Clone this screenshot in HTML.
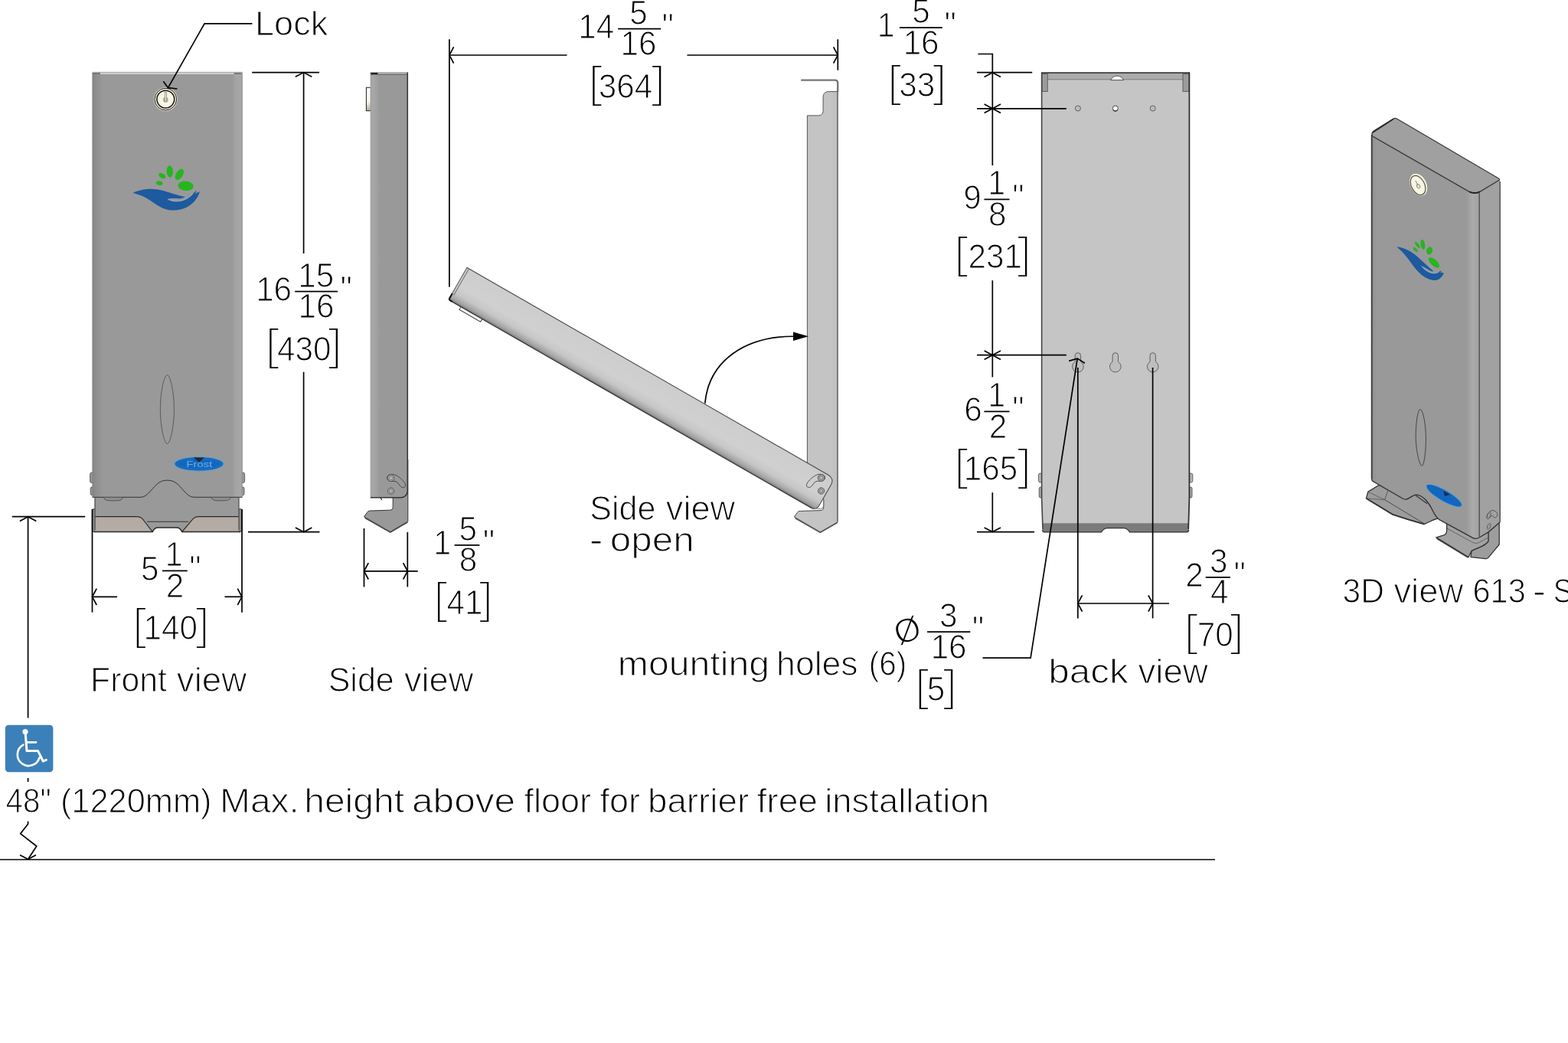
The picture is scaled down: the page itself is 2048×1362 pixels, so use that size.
<!DOCTYPE html>
<html lang="en"><head><meta charset="utf-8"><title>613-S Dimensions</title>
<style>
html,body{margin:0;padding:0;background:#fff;}
body{width:2048px;height:1362px;overflow:hidden;}
svg{display:block;position:absolute;left:0;top:0;}
text{font-family:"Liberation Sans",sans-serif;fill:#000;stroke:#fff;stroke-width:1.2px;font-size:44.7px;}
.b{font-family:"Liberation Mono",monospace;stroke-width:2.2px;}
.t,.b{filter:grayscale(1);}
.ln{stroke:#000;stroke-width:1.7;fill:none;stroke-linecap:butt;}
.ol{stroke:#333;stroke-width:1;fill:none;}
</style></head><body>
<svg width="2048" height="1362" viewBox="0 0 2048 1362">
<!-- defs -->
<defs>
<linearGradient id="gFront" x1="0" y1="0" x2="1" y2="0">
<stop offset="0" stop-color="#7e7e7e"/><stop offset="0.012" stop-color="#8a8a8a"/><stop offset="0.07" stop-color="#999999"/>
<stop offset="0.93" stop-color="#999999"/><stop offset="0.955" stop-color="#a4a4a4"/><stop offset="0.99" stop-color="#a6a6a6"/><stop offset="1" stop-color="#8c8c8c"/>
</linearGradient>
<linearGradient id="gSide" x1="0" y1="0" x2="1" y2="0">
<stop offset="0" stop-color="#a2a2a2"/><stop offset="0.08" stop-color="#a8a8a8"/><stop offset="0.25" stop-color="#999999"/>
<stop offset="1" stop-color="#999999"/>
</linearGradient>
<linearGradient id="gOpen" x1="0" y1="0" x2="0" y2="1">
<stop offset="0" stop-color="#cdcdcd"/><stop offset="0.55" stop-color="#d0d0d0"/><stop offset="0.76" stop-color="#c6c6c6"/><stop offset="0.92" stop-color="#a4a4a4"/><stop offset="1" stop-color="#7c7c7c"/>
</linearGradient>
<linearGradient id="gNub" x1="0" y1="0" x2="0" y2="1">
<stop offset="0" stop-color="#ffffff"/><stop offset="0.6" stop-color="#fbfbe9"/><stop offset="1" stop-color="#b5a8a0"/>
</linearGradient>
<linearGradient id="g3d" x1="0" y1="0" x2="1" y2="0">
<stop offset="0" stop-color="#8e8e8e"/><stop offset="0.04" stop-color="#999999"/><stop offset="0.88" stop-color="#999999"/><stop offset="0.94" stop-color="#ababab"/><stop offset="1" stop-color="#a2a2a2"/>
</linearGradient>
<g id="logo">
<path d="M173.6,252.1 C180,248.6 190,246.6 200,246.9 C209,247.2 216,249.6 224,252.3 C231,254.6 237,256.1 241.8,257 C239.5,258.8 236,259.4 232.5,259.3 C227,259.1 222.5,258.8 218.6,260 C224,263 231,263.5 236.5,262.3 C243,260.8 248,257 252,253 C253.6,251.3 255.5,249.6 257,248.8 C256.6,250.2 255.6,251.6 254.4,253.2 C256.6,252 258.8,250.8 260.8,250.6 C259.5,255.5 256,261 251.5,265.2 C245,271.3 236,274.6 226,274.6 C217,274.6 210,271 204,267 C198,263 192,258.6 186,256 C181.6,254.1 177,253.2 173.6,252.1 Z" fill="#1d5a9e"/>
<path d="M219.4,260.2 C225,263.2 231.5,263.4 236.8,262.2 C243,260.7 248,257.2 252,253.2" fill="none" stroke="#8fb3d9" stroke-width="1"/>
<g fill="#25b51f">
<ellipse cx="221.8" cy="223.9" rx="4.2" ry="7.6" transform="rotate(-3 221.8 223.9)"/>
<ellipse cx="234.3" cy="227.8" rx="4.4" ry="8" transform="rotate(32 234.3 227.8)"/>
<ellipse cx="211.8" cy="229.6" rx="5" ry="3" transform="rotate(28 211.8 229.6)"/>
<ellipse cx="208.2" cy="239.1" rx="4.4" ry="2.7" transform="rotate(12 208.2 239.1)"/>
<ellipse cx="242.6" cy="242.8" rx="10.2" ry="6.2" transform="rotate(4 242.6 242.8)"/>
</g>
</g>
<g id="pivot">
<!-- hinge detail, origin at upper circle centre -->
<path d="M-3.2,-3.6 C1,-6 6,-4.6 10.5,-1.2 C15,2.2 19.5,7 19.2,10 C18.9,12.6 15.5,13 13.3,11.6 C11,10 10,6 6.5,4.6 C4,3.6 0,5.4 -3,3.4 C-5.6,1.6 -5.6,-2.2 -3.2,-3.6 Z" fill="none" stroke="#333" stroke-width="0.8"/>
<circle cx="0" cy="0" r="4.4" fill="#aaa" stroke="#444" stroke-width="0.8"/>
<circle cx="0" cy="0" r="2.4" fill="#b8b8b8" stroke="#555" stroke-width="0.6"/>
<circle cx="0" cy="17" r="4.2" fill="#aaa" stroke="#444" stroke-width="0.8"/>
<circle cx="0" cy="17" r="2.2" fill="#b8b8b8" stroke="#555" stroke-width="0.6"/>
</g>
</defs>

<!-- front -->
<g id="frontview">
<!-- side hinge bumps -->
<rect x="117.6" y="617" width="5" height="13.6" rx="2.4" fill="#999" stroke="#444" stroke-width="0.8"/>
<rect x="118.2" y="635.8" width="5" height="11" rx="2.4" fill="#999" stroke="#444" stroke-width="0.8"/>
<rect x="314.6" y="617" width="5" height="13.6" rx="2.4" fill="#999" stroke="#444" stroke-width="0.8"/>
<rect x="314" y="635.8" width="5" height="11" rx="2.4" fill="#999" stroke="#444" stroke-width="0.8"/>
<!-- tray behind -->
<rect x="120.4" y="664.6" width="5" height="29.6" rx="2" fill="#8e8e8e" stroke="#333" stroke-width="1"/>
<rect x="311.2" y="664.6" width="5" height="29.6" rx="2" fill="#8e8e8e" stroke="#333" stroke-width="1"/>
<path d="M123.6,620 H312.2 V694.6 H237.6 C236,690.4 234,689 230.6,689 H206.4 C203,689 201,690.4 199.4,694.6 H123.6 Z" fill="#999999"/>
<!-- beige paper -->
<path d="M124.6,674.6 H178.5 C183,674.6 185.6,676 188,680 L199.2,694.2 H124.6 Z" fill="#b4aba5"/>
<path d="M311.6,674.6 H259.6 C255,674.6 252.4,676 250,680 L237.9,694.2 H311.6 Z" fill="#b4aba5"/>
<path d="M124.2,674.6 H178.5 C183,674.6 185.6,676 188,680 L199.2,694.4 M311.8,674.6 H259.6 C255,674.6 252.4,676 250,680 L237.9,694.4" fill="none" stroke="#2a2a2a" stroke-width="1.2"/>
<path d="M192,681.3 H246" stroke="#333" stroke-width="1.1" fill="none"/>
<path d="M122.4,694.4 H199.4 C201,690.4 203,689 206.4,689 H230.6 C234,689 236,690.4 237.6,694.4 H314" fill="none" stroke="#2a2a2a" stroke-width="1.5"/>
<path d="M124,650 V692 M312,650 V692" stroke="#3a3a3a" stroke-width="1" fill="none"/>
<!-- main cover -->
<path d="M120.4,94.4 H316.8 V649.3 H253 C244,649.3 238,636 229,630 C225,627.6 222,627.2 218.4,627.2 C215,627.2 212,627.6 208,630 C199,636 193,649.3 184,649.3 H120.4 Z" fill="url(#gFront)"/>
<rect x="120.4" y="93.8" width="196.4" height="1.6" fill="#b0b0b0"/>
<rect x="122" y="95.4" width="193" height="1.3" fill="#e8e8e8"/>
<path d="M121.6,96 h9.4 M305.6,96 h9.4" stroke="#222" stroke-width="1.2"/>
<path d="M120.6,649.3 H184 C193,649.3 199,636 208,630 C212,627.6 215,627.2 218.4,627.2 C222,627.2 225,627.6 229,630 C238,636 244,649.3 253,649.3 H316.6" fill="none" stroke="#333" stroke-width="1"/>
<path d="M135.4,649.8 C137,653.4 140,653.8 148,653.8 C156,653.8 159,653.4 160.6,649.8 M276,649.8 C277.6,653.4 280.6,653.8 288.6,653.8 C296.6,653.8 299.6,653.4 301.2,649.8" fill="#8f8f8f" stroke="#444" stroke-width="0.8"/>
<!-- slot -->
<path d="M218.4,489.6 C222.4,489.6 227.4,512 227.4,534.5 C227.4,557 222.4,579.4 218.4,579.4 C214.4,579.4 209.4,557 209.4,534.5 C209.4,512 214.4,489.6 218.4,489.6 Z" fill="#9a9a9a" stroke="#4a4a4a" stroke-width="0.8"/>
<!-- lock -->
<circle cx="216.3" cy="129.6" r="15.4" fill="#f1efdb"/>
<circle cx="216.3" cy="129.6" r="14.3" fill="none" stroke="#111" stroke-width="1"/>
<circle cx="216.3" cy="129.6" r="11.4" fill="#f7f5e4" stroke="#111" stroke-width="1.5"/>
<circle cx="216.3" cy="130.2" r="3.4" fill="#b0ad9c"/>
<rect x="215.3" y="120.6" width="2.2" height="12.4" fill="#f1efdb" stroke="#777" stroke-width="0.7"/>
<!-- logos -->
<use href="#logo"/>
<ellipse cx="259.9" cy="605.8" rx="32.6" ry="9.6" fill="#5b9bd6"/>
<ellipse cx="259.9" cy="605.8" rx="31.4" ry="8.6" fill="#1167bd"/>
<ellipse cx="259.9" cy="605.8" rx="28.6" ry="6.6" fill="none" stroke="#5d9ede" stroke-width="0.5" stroke-dasharray="1.2 1.6"/>
<path d="M252.6,597.4 H267.2 L259.9,603.4 Z" fill="#2a2430"/>
<text x="260.2" y="609.6" text-anchor="middle" textLength="34" lengthAdjust="spacingAndGlyphs" style="font-size:10.5px;fill:#6ea9e4;stroke:none">Frost</text>
</g>

<!-- side -->
<g id="sideview">
<!-- lock nub -->
<rect x="478.4" y="114.3" width="6" height="30.4" fill="url(#gNub)" stroke="#222" stroke-width="1"/>
<!-- back plate lower -->
<path d="M513.2,640 V661.6 C513.2,665 511.6,666.2 508.6,666.2 L483.6,667 C481.6,667 480.4,667.8 479.4,669.4 L475.6,674.8 L509.8,694.6 L532.8,680.8 V600 H513.2 Z" fill="#999999" stroke="#333" stroke-width="1"/>
<path d="M476.6,676.4 L509.8,695.2 L532.6,681.8" fill="none" stroke="#4a4a4a" stroke-width="1.4"/>
<!-- body -->
<path d="M483.6,94.2 H532.2 V640.8 C532.2,646 528.6,649.6 523.6,649.6 H483.6 Z" fill="url(#gSide)"/>
<rect x="483.6" y="94" width="48.6" height="2.8" fill="#b0b0b0"/>
<rect x="484" y="96.8" width="48" height="1.2" fill="#6e6e6e"/>
<path d="M484.4,96 h9" stroke="#111" stroke-width="1.8"/>
<path d="M532.3,94.6 V641 C532.3,646 528.6,649.7 523.6,649.7 H483.8" fill="none" stroke="#333" stroke-width="1.5"/>
<path d="M497,650 l1.8,3" stroke="#222" stroke-width="1.2"/>
<use href="#pivot" transform="translate(510.6 624.2)"/>
</g>

<!-- open -->
<g id="openview">
<!-- back plate (vertical) -->
<path d="M1054.4,150.9 H1068.6 C1072.6,150.9 1075.1,148.4 1075.1,144.4 V126.4 C1075.1,122.2 1078,119.6 1082.4,119.6 H1094.2 V681.6 L1071.4,694.8 L1037.4,675 L1041.2,669.6 C1042.2,668 1043.4,667.4 1045.4,667.4 L1071,666.6 C1074.4,666.6 1075.8,665 1075.8,662 V640 L1054.4,628 Z" fill="#c4c4c4"/>
<rect x="1088" y="119.6" width="6" height="562" fill="#c0c0c0"/>
<path d="M1054.4,628 V150.9 H1068.6 C1072.6,150.9 1075.1,148.4 1075.1,144.4 V126.4 C1075.1,122.2 1078,119.6 1082.4,119.6 H1094.2" fill="none" stroke="#555" stroke-width="1"/>

<path d="M1046.2,104.6 H1090.6 C1093,104.6 1094.2,105.8 1094.2,108.2 V119.6" fill="none" stroke="#777" stroke-width="2.4"/>
<path d="M1094,119 V681.6" stroke="#4a4a4a" stroke-width="1.3" fill="none"/>
<path d="M1075.8,652 V662 C1075.8,665 1074.4,666.6 1071,666.6 L1045.4,667.4 C1043.4,667.4 1042.2,668 1041.2,669.6 L1037.4,675 L1071.4,694.8 L1094.2,681.6" fill="none" stroke="#444" stroke-width="1"/>
<path d="M1038.4,676.6 L1071.4,695.4 L1094,682.4" fill="none" stroke="#555" stroke-width="1.4"/>
<path d="M1066,664 L1075.6,646 V660 C1075.6,663 1074,664.4 1071,664.4 Z" fill="#fff" stroke="#555" stroke-width="0.8"/>
<!-- tilted cover -->
<g transform="translate(609.6 349.2) rotate(29.85)">
<rect x="19" y="47" width="32" height="5.6" fill="#fff" stroke="#444" stroke-width="1"/>
<path d="M0,0 H545 C550.4,0 554,3.6 554,9 V41 C554,45.4 551,48.4 546.6,48.4 H3 C1,48.4 0,47.4 0,45.4 Z" fill="url(#gOpen)"/>
<path d="M0,0 H545 C550.4,0 554,3.6 554,9 V41 C554,45.4 551,48.4 546.6,48.4" fill="none" stroke="#444" stroke-width="1"/>
<path d="M3.4,0.6 V40" stroke="#666" stroke-width="0.9" fill="none"/>
<path d="M0.4,0 V46" stroke="#555" stroke-width="1" fill="none"/>
<path d="M2,48.3 H547" stroke="#3a3a3a" stroke-width="1.5" fill="none"/>
<path d="M0.6,39 V46 C0.6,47.6 1.4,48.2 3,48.2 H6" stroke="#111" stroke-width="2" fill="none"/>
</g>
<use href="#pivot" transform="translate(1072.6 624) scale(-1 1)"/>
</g>

<!-- back -->
<g id="backview">
<!-- hinge bumps -->
<rect x="1356.4" y="618" width="5" height="12" rx="2.4" fill="#b5b5b5" stroke="#444" stroke-width="0.8"/>
<rect x="1357.2" y="636" width="4.4" height="14" rx="2" fill="#a5a5a5" stroke="#444" stroke-width="0.8"/>
<rect x="1552.8" y="618" width="5" height="12" rx="2.4" fill="#b5b5b5" stroke="#444" stroke-width="0.8"/>
<rect x="1552.6" y="636" width="4.4" height="14" rx="2" fill="#a5a5a5" stroke="#444" stroke-width="0.8"/>
<!-- panel -->
<path d="M1360.2,94.6 H1554 V650 L1552.6,692 C1552.6,693.8 1551.4,694.9 1549.6,694.9 H1475.4 C1473.4,690.8 1471,689.6 1467,689.6 H1447 C1443,689.6 1440.6,690.8 1438.6,694.9 H1364.6 C1362.8,694.9 1361.6,693.8 1361.6,692 L1360.2,650 Z" fill="#c5c5c5"/>
<!-- bottom dark band -->
<path d="M1361.4,683.2 H1552.8 L1552.6,692 C1552.6,693.8 1551.4,694.9 1549.6,694.9 H1475.4 C1473.4,690.8 1471,689.6 1467,689.6 H1447 C1443,689.6 1440.6,690.8 1438.6,694.9 H1364.6 C1362.8,694.9 1361.6,693.8 1361.6,692 Z" fill="#7b7b7b"/>
<path d="M1361.6,692 C1361.6,693.8 1362.8,694.9 1364.6,694.9 H1438.6 C1440.6,690.8 1443,689.6 1447,689.6 H1467 C1471,689.6 1473.4,690.8 1475.4,694.9 H1549.6 C1551.4,694.9 1552.6,693.8 1552.6,692" fill="none" stroke="#333" stroke-width="1.2"/>
<!-- top lip -->
<rect x="1360.2" y="96" width="193.8" height="7.6" fill="#ababab"/>
<rect x="1368" y="103" width="177" height="1.4" fill="#8a8a8a"/>
<rect x="1360.8" y="96.6" width="7.4" height="22.8" fill="#9c9c9c" stroke="#555" stroke-width="0.9"/>
<rect x="1545" y="96.6" width="8.2" height="22.8" fill="#9c9c9c" stroke="#555" stroke-width="0.9"/>
<path d="M1450.6,104.6 C1453,100.6 1455.6,99.2 1459,99.2 C1462.4,99.2 1465,100.6 1467.6,104.6 Z" fill="#fff" stroke="#444" stroke-width="0.9"/>
<rect x="1360.2" y="94.2" width="193.8" height="1.8" fill="#444"/>
<!-- edges -->
<path d="M1360.6,94.6 V650 L1362,691" fill="none" stroke="#444" stroke-width="1.6"/>
<path d="M1553.4,94.6 V650 L1552.2,691" fill="none" stroke="#2a2a2a" stroke-width="1.7"/>
<!-- holes -->
<circle cx="1407.9" cy="141.5" r="3.5" fill="#bcbcbc" stroke="#555" stroke-width="0.9"/>
<circle cx="1456.8" cy="141.5" r="3.5" fill="#fff" stroke="#444" stroke-width="1"/>
<path d="M1454,143.6 A3.4,3.4 0 0 0 1459.6,143.6" fill="none" stroke="#333" stroke-width="1.2"/>
<circle cx="1505.7" cy="141.5" r="3.5" fill="#bcbcbc" stroke="#555" stroke-width="0.9"/>
<g fill="#bebebe" stroke="#555" stroke-width="0.9">
<path id="kh" d="M1404.2,472.4 V464.4 A3.7,3.7 0 0 1 1411.6,464.4 V472.4 A7.3,7.3 0 1 1 1404.2,472.4 Z"/>
<use href="#kh" x="48.9"/>
<use href="#kh" x="97.8"/>
</g>
</g>

<!-- view3d -->
<g id="view3d">
<!-- back plate foot (right-bottom) -->
<path d="M1932,690 L1958.2,680 V711 L1943.8,728.4 C1942.8,729.4 1941.6,729.8 1940.2,729.6 L1921,727.4 L1922,719.4 C1930,715 1941,713 1943.6,706.6 V694 Z" fill="#9d9d9d" stroke="#333" stroke-width="1.3"/>
<!-- foot plate -->
<path d="M1875.9,701.8 L1886.4,698.6 C1888.8,697.6 1889.6,695.6 1889.6,692.6 V680 L1944,690 V706.6 C1941,713 1930,715 1922,719.4 L1918,727.5 Z" fill="#a2a2a2" stroke="#333" stroke-width="1.3"/>
<path d="M1876.4,703 L1917.6,728" stroke="#3a3a3a" stroke-width="1.6" fill="none"/>
<path d="M1890,690 L1924,708.6 C1927,710 1930,709.6 1932,708.4 L1943.6,702" stroke="#555" stroke-width="0.8" fill="none"/>
<!-- tray left -->
<path d="M1784.4,650.6 L1786.8,642.2 L1800,634.2 L1830,630 L1858,640 L1882,676 C1876,677.4 1872,678.6 1868,681 L1860.5,684.4 L1840,678.4 L1819,671.6 Z" fill="#9c9c9c" stroke="#333" stroke-width="1.3"/>
<path d="M1786.8,642.4 L1808.6,652.6 L1784.8,651" fill="none" stroke="#555" stroke-width="0.8"/>
<path d="M1808.6,652.6 L1812.6,641" fill="none" stroke="#444" stroke-width="0.8"/>
<path d="M1808.6,652.6 L1860.5,684" fill="none" stroke="#444" stroke-width="0.9"/>
<path d="M1784.6,651.2 L1819,672 L1840,678.8 L1860.5,684.8" fill="none" stroke="#333" stroke-width="1.5"/>
<!-- side face -->
<path d="M1932,250.6 L1958.4,235 C1959,235.6 1959.4,236.4 1959.4,237.6 V681.4 L1944.4,694.6 L1932,702 Z" fill="#a1a1a1"/>
<!-- top face -->
<path d="M1791.8,174.6 C1792.6,172.4 1793.6,171.4 1795,170.6 L1820,155 C1821.4,154.2 1823,154.2 1824.4,155 L1957,232.8 C1958.4,233.6 1958.8,234.4 1958.4,235 L1933,250.4 C1929,252.4 1923,252.4 1919,250.4 L1794,178.6 Z" fill="#a0a0a0"/>
<!-- front face -->
<path d="M1791.6,176 C1792,177.4 1792.8,178.2 1794,178.8 L1919,250.6 C1923,252.6 1929,252.6 1932,250.8 V702 C1929,703.6 1926,703.6 1923.6,702.4 L1880,678.6 C1876,676 1874,672 1872.4,669 C1868,660 1865,654.4 1859,650 C1855,647 1851,645.6 1848,646.4 C1844,647.6 1841,651 1837,652 C1835,652.4 1833,651.6 1831.6,650.8 L1793.4,628.6 C1792,627.8 1791.6,627 1791.6,625.6 Z" fill="url(#g3d)"/>
<!-- outlines -->
<path d="M1791.6,176 V625.6 C1791.6,627 1792,627.8 1793.4,628.6 L1831.6,650.8 C1833,651.6 1835,652.4 1837,652 C1841,651 1844,647.6 1848,646.4 C1851,645.6 1855,647 1859,650 C1865,654.4 1868,660 1872.4,669 C1874,672 1876,676 1880,678.6 L1923.6,702.4 C1926,703.6 1929,703.6 1932,702 L1944.4,694.6 L1959.4,681.4" fill="none" stroke="#333" stroke-width="1.3"/>
<path d="M1791.6,176 V625" stroke="#3a3a3a" stroke-width="1.6" fill="none"/>
<path d="M1932.2,252 V701.6" stroke="#5a5a5a" stroke-width="1.6" fill="none"/>
<path d="M1959.2,237 V681.4" stroke="#555" stroke-width="1.5" fill="none"/>
<path d="M1791.8,174.6 C1792.6,172.4 1793.6,171.4 1795,170.6 L1820,155 C1821.4,154.2 1823,154.2 1824.4,155 L1957,232.8 C1958.4,233.6 1958.8,234.4 1958.4,235 L1933,250.4 C1929,252.4 1923,252.4 1919,250.4 L1794,178.6 C1792.6,177.8 1791.8,176.6 1791.8,174.6 Z" fill="none" stroke="#3a3a3a" stroke-width="1.3"/>
<path d="M1792.4,173.4 L1820,155.4" stroke="#222" stroke-width="1.6" fill="none"/>
<path d="M1919,250.2 C1923,252.6 1929,252.6 1933,250.2" stroke="#222" stroke-width="1.8" fill="none"/>
<path d="M1848.6,646.6 L1864,657.6" stroke="#444" stroke-width="1.4" fill="none"/>
<!-- lock -->
<g transform="translate(1852.7 241.2) rotate(-27)">
<ellipse cx="0" cy="0" rx="11" ry="16" fill="#f3f1df" stroke="#8a8a80" stroke-width="0.8"/>
<ellipse cx="-0.9" cy="0.4" rx="8.6" ry="13.4" fill="#f6f4e2" stroke="#55554c" stroke-width="1.2"/>
<ellipse cx="-1" cy="1.8" rx="2.1" ry="2.8" fill="#e4e2d2" stroke="#77776c" stroke-width="0.8"/>
<path d="M-1,-6.4 V0" stroke="#88887c" stroke-width="1"/>
</g>
<!-- logo (skewed onto front face) -->
<g transform="matrix(0.702 0.405 0 0.81 1702.6 48)">
<use href="#logo"/>
</g>
<!-- slot -->
<path d="M1855,534.4 C1858.4,535 1862.2,553 1862.4,571 C1862.6,589 1860,608.2 1857.2,608.2 C1854,608.2 1849.4,589 1849.2,570 C1849,552 1852.2,534 1855,534.4 Z" fill="#9a9a9a" stroke="#3a3a3a" stroke-width="0.9"/>
<!-- frost oval -->
<g transform="translate(1886.2 647.3) rotate(30)">
<ellipse cx="0" cy="0" rx="27" ry="7.6" fill="#5b9bd6"/>
<ellipse cx="0" cy="0" rx="26" ry="6.6" fill="#1167bd"/>
<path d="M-4,-5 L6,-5 L1,0 Z" fill="#1a2a50"/>
</g>
<use href="#pivot" transform="matrix(0.58 -0.5 0 0.85 1944.7 673)"/>
</g>

<!-- dims -->
<path class="ln" d="M329.4,30.8 L267.1,30.8 L219.5,114.7"/>
<path class="ln" d="M213.4,106.2 L219.5,114.7 L231.5,116.0"/>
<path class="ln" d="M329.2,94.6 L417.0,94.6"/>
<path class="ln" d="M324.0,694.7 L417.4,694.7"/>
<path class="ln" d="M396.6,94.6 L396.6,331.0"/>
<path class="ln" d="M396.6,485.8 L396.6,694.7"/>
<path class="ln" d="M385.9,100.3 L396.6,94.6 L407.3,100.3"/>
<path class="ln" d="M385.9,689.0 L396.6,694.7 L407.3,689.0"/>
<path class="ln" d="M385.2,380.7 H441.0"/>
<path class="ln" d="M120.5,665.0 L120.5,799.7"/>
<path class="ln" d="M316.0,665.0 L316.0,799.7"/>
<path class="ln" d="M120.5,779.3 L153.0,779.3"/>
<path class="ln" d="M293.5,779.3 L316.0,779.3"/>
<path class="ln" d="M126.2,768.6 L120.5,779.3 L126.2,790.0"/>
<path class="ln" d="M310.3,768.6 L316.0,779.3 L310.3,790.0"/>
<path class="ln" d="M212.0,745.4 H244.8"/>
<path class="ln" d="M475.5,690.0 L475.5,766.4"/>
<path class="ln" d="M532.3,695.0 L532.3,766.4"/>
<path class="ln" d="M475.5,745.8 L545.7,745.8"/>
<path class="ln" d="M481.2,735.1 L475.5,745.8 L481.2,756.5"/>
<path class="ln" d="M526.6,735.1 L532.3,745.8 L526.6,756.5"/>
<path class="ln" d="M593.6,711.9 H626.4"/>
<path class="ln" d="M586.9,51.3 L586.9,374.8"/>
<path class="ln" d="M1094.3,51.3 L1094.3,91.7"/>
<path class="ln" d="M586.9,72.0 L740.5,72.0"/>
<path class="ln" d="M897.5,72.0 L1094.3,72.0"/>
<path class="ln" d="M592.6,61.3 L586.9,72.0 L592.6,82.7"/>
<path class="ln" d="M1088.6,61.3 L1094.3,72.0 L1088.6,82.7"/>
<path class="ln" d="M807.2,37.7 H863.2"/>
<path class="ln" d="M1277.4,70.5 L1296.3,70.5 L1296.3,215.9"/>
<path class="ln" d="M1276.0,94.7 L1348.2,94.7"/>
<path class="ln" d="M1276.0,141.8 L1392.8,141.8"/>
<path class="ln" d="M1285.6,100.4 L1296.3,94.7 L1307.0,100.4"/>
<path class="ln" d="M1285.6,136.1 L1296.3,141.8 L1307.0,136.1"/>
<path class="ln" d="M1285.6,147.5 L1296.3,141.8 L1307.0,147.5"/>
<path class="ln" d="M1174.9,36.1 H1230.8"/>
<path class="ln" d="M1296.3,366.2 L1296.3,492.5"/>
<path class="ln" d="M1276.0,463.7 L1392.8,463.7"/>
<path class="ln" d="M1285.6,458.0 L1296.3,463.7 L1307.0,458.0"/>
<path class="ln" d="M1285.6,469.4 L1296.3,463.7 L1307.0,469.4"/>
<path class="ln" d="M1285.4,260.4 H1318.5"/>
<path class="ln" d="M1296.3,643.2 L1296.3,694.6"/>
<path class="ln" d="M1276.0,694.6 L1351.0,694.6"/>
<path class="ln" d="M1285.6,688.9 L1296.3,694.6 L1307.0,688.9"/>
<path class="ln" d="M1285.4,537.4 H1318.5"/>
<path class="ln" d="M1407.8,479.9 L1407.8,807.5"/>
<path class="ln" d="M1505.6,479.9 L1505.6,807.5"/>
<path class="ln" d="M1407.8,788.0 L1527.0,788.0"/>
<path class="ln" d="M1413.5,777.3 L1407.8,788.0 L1413.5,798.7"/>
<path class="ln" d="M1499.9,777.3 L1505.6,788.0 L1499.9,798.7"/>
<path class="ln" d="M1574.7,753.8 H1606.9"/>
<path class="ln" d="M1283.5,859.1 L1346.1,859.1 L1407.2,468.1"/>
<path class="ln" d="M1396.2,471.4 L1407.2,468.1 L1416.9,474.3"/>
<path class="ln" d="M1211.1,825.2 H1267.3"/>
<path class="ln" d="M16.0,674.7 L111.2,674.7"/>
<path class="ln" d="M36.6,674.7 L36.6,937.6"/>
<path class="ln" d="M25.9,680.4 L36.6,674.7 L47.3,680.4"/>
<path class="ln" d="M36.6,1016.0 L36.6,1021.0"/>
<path class="ln" d="M36.6,1072.6 L36.6,1076.0 L26.7,1088.6 L47.8,1105.0 L36.6,1122.0"/>
<path class="ln" d="M26.0,1116.5 L36.6,1122.0 L47.0,1116.5"/>
<path class="ln" d="M0.0,1122.5 L1587.0,1122.5"/>
<path class="ln" d="M920.8,526.6 C926,470 975,438 1040,439.3"/>
<path d="M1056,439.3 L1036,433.6 L1036,445 Z" fill="#000"/>
<rect x="6.8" y="946.8" width="62.6" height="61.5" rx="4.5" fill="#3c80b9"/>
<g fill="none" stroke="#fff" stroke-linecap="round" stroke-linejoin="round">
<circle cx="33" cy="955.6" r="3.6" fill="#fff" stroke="none"/>
<path d="M33.4,960 L35,980.6 L49.6,980.6 L56.2,994 L60.4,992.4" stroke-width="3"/>
<path d="M34.4,969.3 L47,969.3" stroke-width="2.8"/>
<path d="M30.4,972.6 A14.6,14.6 0 1 0 51.4,989.6" stroke-width="2.6"/>
</g>
<!-- text -->
<text class="t" transform="translate(333.00 46.10) scale(1.0087 1)">Lock</text>
<text class="t" transform="translate(334.13 393.00) scale(0.9452 1)">16</text>
<text class="t" transform="translate(389.35 374.50) scale(0.9452 1)">15</text>
<text class="t" transform="translate(389.43 415.20) scale(0.9452 1)">16</text>
<text class="t" transform="translate(444.46 391.80) scale(0.9752 1)">"</text>
<text class="b" transform="translate(341.58 470.12) scale(0.86 1)" style="font-size:56.8px">[</text>
<text class="b" transform="translate(422.43 470.12) scale(0.86 1)" style="font-size:56.8px">]</text>
<text class="t" transform="translate(361.99 470.50) scale(0.9452 1)">430</text>
<text class="t" transform="translate(184.09 757.70) scale(0.9452 1)">5</text>
<text class="t" transform="translate(215.70 739.20) scale(0.9200 1)">1</text>
<text class="t" transform="translate(216.80 779.90) scale(0.9452 1)">2</text>
<text class="t" transform="translate(247.36 756.50) scale(0.9752 1)">"</text>
<text class="b" transform="translate(167.98 834.82) scale(0.86 1)" style="font-size:56.8px">[</text>
<text class="b" transform="translate(249.43 834.82) scale(0.86 1)" style="font-size:56.8px">]</text>
<text class="t" transform="translate(187.52 835.20) scale(0.9452 1)">140</text>
<text class="t" transform="translate(566.25 724.20) scale(0.9200 1)">1</text>
<text class="t" transform="translate(599.44 705.70) scale(0.9452 1)">5</text>
<text class="t" transform="translate(599.75 746.40) scale(0.9452 1)">8</text>
<text class="t" transform="translate(630.86 723.00) scale(0.9752 1)">"</text>
<text class="b" transform="translate(561.18 801.32) scale(0.86 1)" style="font-size:56.8px">[</text>
<text class="b" transform="translate(619.63 801.32) scale(0.86 1)" style="font-size:56.8px">]</text>
<text class="t" transform="translate(583.56 801.70) scale(0.9452 1)">41</text>
<text class="t" transform="translate(755.21 50.00) scale(0.9452 1)">14</text>
<text class="t" transform="translate(822.19 31.50) scale(0.9452 1)">5</text>
<text class="t" transform="translate(810.53 72.20) scale(0.9452 1)">16</text>
<text class="t" transform="translate(864.46 48.80) scale(0.9752 1)">"</text>
<text class="b" transform="translate(763.38 127.12) scale(0.86 1)" style="font-size:56.8px">[</text>
<text class="b" transform="translate(844.83 127.12) scale(0.86 1)" style="font-size:56.8px">]</text>
<text class="t" transform="translate(781.72 127.50) scale(0.9452 1)">364</text>
<text class="t" transform="translate(1145.80 48.40) scale(0.9200 1)">1</text>
<text class="t" transform="translate(1191.14 29.90) scale(0.9452 1)">5</text>
<text class="t" transform="translate(1179.63 70.60) scale(0.9452 1)">16</text>
<text class="t" transform="translate(1233.56 47.20) scale(0.9752 1)">"</text>
<text class="b" transform="translate(1153.98 125.52) scale(0.86 1)" style="font-size:56.8px">[</text>
<text class="b" transform="translate(1212.23 125.52) scale(0.86 1)" style="font-size:56.8px">]</text>
<text class="t" transform="translate(1174.33 125.90) scale(0.9452 1)">33</text>
<text class="t" transform="translate(1258.36 272.70) scale(0.9452 1)">9</text>
<text class="t" transform="translate(1290.25 254.20) scale(0.9200 1)">1</text>
<text class="t" transform="translate(1291.05 294.90) scale(0.9452 1)">8</text>
<text class="t" transform="translate(1322.26 271.50) scale(0.9752 1)">"</text>
<text class="b" transform="translate(1241.28 349.82) scale(0.86 1)" style="font-size:56.8px">[</text>
<text class="b" transform="translate(1322.73 349.82) scale(0.86 1)" style="font-size:56.8px">]</text>
<text class="t" transform="translate(1264.51 350.20) scale(0.9452 1)">231</text>
<text class="t" transform="translate(1259.31 549.70) scale(0.9452 1)">6</text>
<text class="t" transform="translate(1290.25 531.20) scale(0.9200 1)">1</text>
<text class="t" transform="translate(1291.65 571.90) scale(0.9452 1)">2</text>
<text class="t" transform="translate(1322.26 548.50) scale(0.9752 1)">"</text>
<text class="b" transform="translate(1241.28 626.82) scale(0.86 1)" style="font-size:56.8px">[</text>
<text class="b" transform="translate(1322.73 626.82) scale(0.86 1)" style="font-size:56.8px">]</text>
<text class="t" transform="translate(1258.75 627.20) scale(0.9452 1)">165</text>
<text class="t" transform="translate(1548.15 766.10) scale(0.9452 1)">2</text>
<text class="t" transform="translate(1580.07 747.60) scale(0.9452 1)">3</text>
<text class="t" transform="translate(1580.94 788.30) scale(0.9452 1)">4</text>
<text class="t" transform="translate(1611.56 764.90) scale(0.9752 1)">"</text>
<text class="b" transform="translate(1541.58 843.22) scale(0.86 1)" style="font-size:56.8px">[</text>
<text class="b" transform="translate(1600.43 843.22) scale(0.86 1)" style="font-size:56.8px">]</text>
<text class="t" transform="translate(1563.74 843.60) scale(0.9452 1)">70</text>
<text class="t" transform="translate(1227.12 819.00) scale(0.9452 1)">3</text>
<text class="t" transform="translate(1215.63 859.70) scale(0.9452 1)">16</text>
<text class="t" transform="translate(1269.66 836.30) scale(0.9752 1)">"</text>
<text class="b" transform="translate(1189.98 914.62) scale(0.86 1)" style="font-size:56.8px">[</text>
<text class="b" transform="translate(1225.63 914.62) scale(0.86 1)" style="font-size:56.8px">]</text>
<text class="t" transform="translate(1210.64 915.00) scale(0.9452 1)">5</text>
<text class="t" transform="rotate(-19 1184.7 822.4) translate(1167.6 838.2) scale(1.06 1.06)" style="font-size:41.8px">Ø</text>
<text class="t" y="902.50"><tspan x="118.02" textLength="99.87" lengthAdjust="spacingAndGlyphs">Front</tspan> <tspan x="230.83" textLength="91.27" lengthAdjust="spacingAndGlyphs">view</tspan></text>
<text class="t" y="902.50"><tspan x="428.67" textLength="86.12" lengthAdjust="spacingAndGlyphs">Side</tspan> <tspan x="528.04" textLength="90.26" lengthAdjust="spacingAndGlyphs">view</tspan></text>
<text class="t" y="679.20"><tspan x="770.27" textLength="86.12" lengthAdjust="spacingAndGlyphs">Side</tspan> <tspan x="869.84" textLength="90.36" lengthAdjust="spacingAndGlyphs">view</tspan></text>
<text class="t" y="719.80"><tspan x="769.71" textLength="17.78" lengthAdjust="spacingAndGlyphs">-</tspan> <tspan x="796.86" textLength="109.80" lengthAdjust="spacingAndGlyphs">open</tspan></text>
<text class="t" y="882.00"><tspan x="806.86" textLength="198.09" lengthAdjust="spacingAndGlyphs">mounting</tspan> <tspan x="1014.11" textLength="106.49" lengthAdjust="spacingAndGlyphs">holes</tspan> <tspan x="1134.84" textLength="49.51" lengthAdjust="spacingAndGlyphs">(6)</tspan></text>
<text class="t" y="892.20"><tspan x="1369.25" textLength="104.44" lengthAdjust="spacingAndGlyphs">back</tspan> <tspan x="1486.43" textLength="91.47" lengthAdjust="spacingAndGlyphs">view</tspan></text>
<text class="t" y="786.90"><tspan x="1753.61" textLength="54.40" lengthAdjust="spacingAndGlyphs">3D</tspan> <tspan x="1820.44" textLength="90.76" lengthAdjust="spacingAndGlyphs">view</tspan> <tspan x="1923.54" textLength="69.25" lengthAdjust="spacingAndGlyphs">613</tspan> <tspan x="2001.69" textLength="17.32" lengthAdjust="spacingAndGlyphs">-</tspan> <tspan x="2028.75" textLength="25.52" lengthAdjust="spacingAndGlyphs">S</tspan></text>
<text class="t" y="1060.60"><tspan x="7.53" textLength="59.22" lengthAdjust="spacingAndGlyphs">48"</tspan> <tspan x="78.93" textLength="197.64" lengthAdjust="spacingAndGlyphs">(1220mm)</tspan> <tspan x="287.03" textLength="103.79" lengthAdjust="spacingAndGlyphs">Max.</tspan> <tspan x="397.23" textLength="130.77" lengthAdjust="spacingAndGlyphs">height</tspan> <tspan x="538.03" textLength="135.04" lengthAdjust="spacingAndGlyphs">above</tspan> <tspan x="684.46" textLength="87.59" lengthAdjust="spacingAndGlyphs">floor</tspan> <tspan x="783.56" textLength="52.39" lengthAdjust="spacingAndGlyphs">for</tspan> <tspan x="845.94" textLength="132.24" lengthAdjust="spacingAndGlyphs">barrier</tspan> <tspan x="988.43" textLength="79.65" lengthAdjust="spacingAndGlyphs">free</tspan> <tspan x="1077.25" textLength="214.71" lengthAdjust="spacingAndGlyphs">installation</tspan></text>
</svg>
</body></html>
